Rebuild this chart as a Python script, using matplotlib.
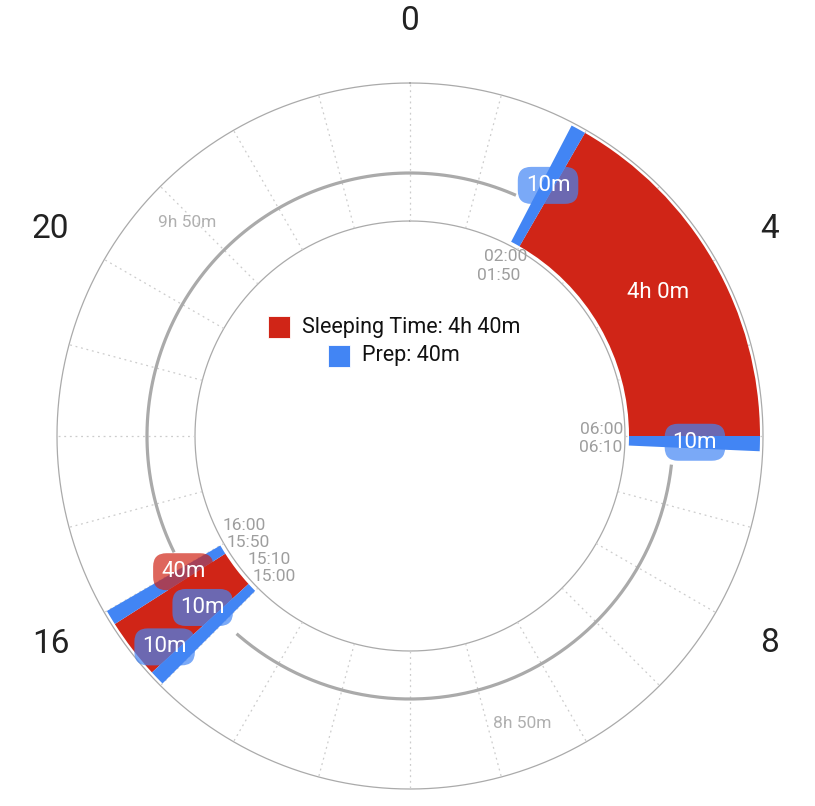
import numpy as np
import matplotlib.pyplot as plt
from matplotlib.patches import Rectangle

plt.rcParams['font.family'] = ['Roboto', 'DejaVu Sans']

# --- data: times of day ---
sleep_starts = ['02:00', '15:10']
sleep_ends = ['06:00', '15:50']
prep_starts = ['01:50', '06:00', '15:00', '15:50']
prep_ends = ['02:00', '06:10', '15:10', '16:00']
hour_ticks = [0, 4, 8, 16, 20]  # 12 falls below the canvas

RED = '#d02517'
BLUE = '#4285f4'
GRAY = '#aaaaaa'

# geometry in pixels (data radius == pixels)
W, H = 815, 806
CX, CY = 410, 436
RMAX = 440
R_IN, R_OUT = 215, 353
R_BAR0, R_BAR1 = 219, 350
R_ARC = 263
R_LAB = 287
R_AWAKE = 309
R_HOUR = 415
ARC_PAD = 0.25  # hours left open at the arc ends

# label nudges in pixels (x right, y up)
slice_label_offsets = {'01:50': (0, -1), '02:00': (0, 0), '06:00': (-2, 0),
                       '15:00': (0, 27), '15:10': (1, 39), '15:50': (0, -62)}
time_label_layout = {'02:00': (10, -7, 'right'), '01:50': (11, -30, 'right'),
                     '06:00': (-2, 6, 'right'), '06:10': (-3, -2, 'right'),
                     '16:00': (-1, 18, 'left'), '15:50': (-2, 9, 'left'),
                     '15:10': (-4, 22, 'left'), '15:00': (-5, 12, 'left')}


def to_h(s):
    h, m = s.split(':')
    return int(h) + int(m) / 60


def fmt(hours):
    h, m = divmod(round(hours * 60), 60)
    return f'{h}h {m}m' if h else f'{m}m'


def th(h):
    return np.deg2rad(h * 15)


fig = plt.figure(figsize=(W / 100, H / 100), dpi=100)
ax = fig.add_axes([(CX - RMAX) / W, (H - CY - RMAX) / H, 2 * RMAX / W, 2 * RMAX / H],
                  projection='polar')
ax.set_theta_zero_location('N')
ax.set_theta_direction(-1)
ax.set_ylim(0, RMAX)
ax.set_axis_off()

# rings and hourly dotted grid
ring = np.linspace(0, 2 * np.pi, 721)
ax.plot(ring, np.full_like(ring, R_IN), color=GRAY, lw=0.9, zorder=1)
ax.plot(ring, np.full_like(ring, R_OUT), color=GRAY, lw=0.9, zorder=1)
for h in range(24):
    ax.plot([th(h), th(h)], [R_IN, R_OUT], color='#cccccc', lw=0.9,
            ls=(0, (1.5, 3)), zorder=1)

# sectors
slices = [(s, e, RED) for s, e in zip(sleep_starts, sleep_ends)] + \
         [(s, e, BLUE) for s, e in zip(prep_starts, prep_ends)]
for s, e, col in slices:
    h0, h1 = to_h(s), to_h(e)
    ax.bar(th(h0), R_BAR1 - R_BAR0, width=th(h1 - h0), bottom=R_BAR0,
           align='edge', color=col, lw=0, zorder=2)

# awake arcs between blocks
block_starts = [to_h(prep_starts[prep_ends.index(s)]) for s in sleep_starts]
block_ends = [to_h(prep_ends[prep_starts.index(e)]) for e in sleep_ends]
for i in range(len(block_ends)):
    a0 = block_ends[i]
    a1 = block_starts[(i + 1) % len(block_starts)]
    if a1 < a0:
        a1 += 24
    t = np.linspace(th(a0 + ARC_PAD), th(a1 - ARC_PAD), 200)
    ax.plot(t, np.full_like(t, R_ARC), color=GRAY, lw=2.3,
            solid_capstyle='butt', zorder=3)
    ax.text(th((a0 + a1) / 2), R_AWAKE, fmt(a1 - a0), ha='center', va='center',
            fontsize=12.5, color='#b0b0b0', zorder=3)

# slice duration labels
for s, e, col in slices:
    h0, h1 = to_h(s), to_h(e)
    dx, dy = slice_label_offsets[s]
    boxed = (h1 - h0) < 1
    bbox = dict(boxstyle='round,pad=0.36,rounding_size=0.6', fc=col, ec='none',
                alpha=0.7) if boxed else None
    ax.annotate(fmt(h1 - h0), xy=(th((h0 + h1) / 2), R_LAB), xytext=(dx, dy),
                textcoords='offset pixels', ha='center', va='center',
                fontsize=16, color='white', bbox=bbox, zorder=6)

# boundary time labels inside the inner ring
for t_str in sorted(set(prep_starts + prep_ends + sleep_starts + sleep_ends)):
    dx, dy, ha = time_label_layout[t_str]
    ax.annotate(t_str, xy=(th(to_h(t_str)), R_IN), xytext=(dx, dy),
                textcoords='offset pixels', ha=ha, va='center',
                fontsize=12.5, color='#9e9e9e', zorder=4)

# hour labels
for h in hour_ticks:
    ax.text(th(h), R_HOUR, str(h), ha='center', va='center',
            fontsize=24, color='#222222')

# centred legend rows
total_sleep = sum(to_h(e) - to_h(s) for s, e in zip(sleep_starts, sleep_ends))
total_prep = sum(to_h(e) - to_h(s) for s, e in zip(prep_starts, prep_ends))
legend_rows = [(RED, f'Sleeping Time: {fmt(total_sleep)}', 327),
               (BLUE, f'Prep: {fmt(total_prep)}', 356)]
renderer = fig.canvas.get_renderer()
LEG_CX, SQ, GAP = 394, 22, 12
for col, label, y in legend_rows:
    txt = fig.text(0, 1 - y / H, label, ha='left', va='center',
                   fontsize=15.5, color='#111111')
    tw = txt.get_window_extent(renderer).width
    x0 = LEG_CX - (SQ + GAP + tw) / 2
    txt.set_x((x0 + SQ + GAP) / W)
    fig.add_artist(Rectangle((x0 / W, 1 - (y + SQ / 2) / H), SQ / W, SQ / H,
                             transform=fig.transFigure, fc=col, ec='white',
                             lw=0.6))

fig.savefig('out.png', dpi=100)
